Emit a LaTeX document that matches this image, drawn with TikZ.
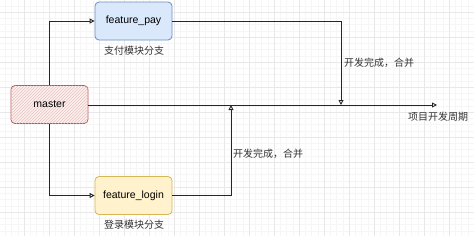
\documentclass[tikz,border=0pt]{standalone}
\usepackage{fontspec}
\setmainfont{Liberation Sans}
\newfontfamily\cjk{Noto Sans CJK SC}
\usetikzlibrary{arrows.meta,patterns}
\definecolor{gridMinor}{RGB}{246,246,246}
\definecolor{gridMajor}{RGB}{232,232,232}
\definecolor{payFill}{HTML}{DAE8FC}
\definecolor{payLine}{HTML}{6C8EBF}
\definecolor{loginFill}{HTML}{FFF2CC}
\definecolor{loginLine}{HTML}{D6B656}
\definecolor{masterFill}{HTML}{F8CECC}
\definecolor{masterLine}{HTML}{B85450}

\begin{document}
\begin{tikzpicture}[x=1pt, y=-1pt,
    branch/.style={rectangle, rounded corners=4pt, line width=0.8pt,
                   minimum width=77pt, minimum height=38pt, inner sep=0pt,
                   font=\fontsize{10.5}{12}\selectfont},
    arr/.style={-{Triangle[open, length=5pt, width=5pt]}, line width=0.9pt, black!85},
    note/.style={font=\cjk\fontsize{10}{12}\selectfont, text=black!80, inner sep=0pt}]

    \useasboundingbox (0,0) rectangle (474,236);

    % Background grid
    \foreach \g in {0,6.25,...,475} {
      \draw[gridMinor, line width=0.4pt] (\g-1,0) -- (\g-1,236);
    }
    \foreach \g in {0,6.25,...,237} {
      \draw[gridMinor, line width=0.4pt] (0,\g-0.5) -- (474,\g-0.5);
    }
    \foreach \g in {24,49,...,474} {
      \draw[gridMajor, line width=0.5pt] (\g,0) -- (\g,236);
    }
    \foreach \g in {12,37,...,236} {
      \draw[gridMajor, line width=0.5pt] (0,\g) -- (474,\g);
    }

    % Branches
    \node[branch, draw=masterLine, fill=masterFill!30,
          postaction={pattern=north east lines, pattern color=masterLine!35}]
          (master) at (49.5,104.5) {master};
    \node[branch, draw=payLine, fill=payFill] (pay) at (133.5,21) {feature\_pay};
    \node[branch, draw=loginLine, fill=loginFill] (login) at (133.5,195.5) {feature\_login};

    \node[note] (payLbl) at (134,51) {支付模块分支};
    \node[note] (loginLbl) at (134,225) {登录模块分支};

    % Timeline
    \coordinate (mergePay) at (341,105);
    \coordinate (mergeLogin) at (231,105);
    \coordinate (timeEnd) at (437,105);

    \draw[arr] (master.north) |- (pay.west);
    \draw[arr] (master.south) |- (login.west);
    \draw[arr] (master.east |- timeEnd) -- (timeEnd);
    \draw[arr] (pay.east) -| (mergePay);
    \draw[arr] (login.east) -| (mergeLogin);

    % Annotations
    \node[note, anchor=west] (payDone) at (344,63) {开发完成，合并};
    \node[note, anchor=west] (loginDone) at (233,154) {开发完成，合并};
    \node[note, anchor=west] (cycle) at (408,116.5) {项目开发周期};

  \end{tikzpicture}
\end{document}
